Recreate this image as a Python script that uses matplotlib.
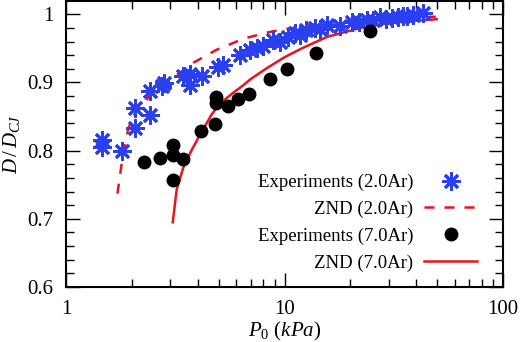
import matplotlib
matplotlib.use("Agg")
import matplotlib.pyplot as plt
from matplotlib.ticker import MultipleLocator, LogLocator, FixedLocator, NullFormatter

# Experiments (2.0Ar)
p_exp2 = [1.46, 1.46, 1.80, 2.07, 2.07, 2.42, 2.42, 2.74, 2.80, 3.44, 3.69, 3.69, 4.18,
          4.98, 5.21, 6.26, 6.95, 7.46, 7.97, 8.87, 9.5, 10.4, 11.2, 11.8, 12.6, 13.8,
          14.5, 15.6, 17.9, 20.3, 22.0, 23.8, 25.5, 27.3, 29.0, 31.2, 33.0, 34.9, 36.5,
          38.8, 43.0]
d_exp2 = [0.816, 0.806, 0.799, 0.833, 0.862, 0.853, 0.888, 0.895, 0.899, 0.910, 0.913,
          0.896, 0.910, 0.923, 0.926, 0.940, 0.947, 0.950, 0.953, 0.962, 0.960, 0.967,
          0.972, 0.970, 0.977, 0.980, 0.978, 0.984, 0.983, 0.989, 0.988, 0.992, 0.991,
          0.996, 0.993, 0.994, 0.996, 0.997, 0.998, 0.999, 1.0015]

# ZND (2.0Ar)
p_znd2 = [1.72, 1.76, 1.80, 1.87, 1.93, 2.05, 2.18, 2.4, 2.6, 2.9, 3.21, 3.83, 4.89,
          6.48, 8.0, 9.5, 13.0, 18.0, 25.0, 35.0, 49.7]
d_znd2 = [0.737, 0.760, 0.782, 0.810, 0.833, 0.852, 0.865, 0.879, 0.889, 0.900, 0.911,
          0.929, 0.948, 0.964, 0.972, 0.977, 0.984, 0.989, 0.992, 0.995, 0.9965]

# Experiments (7.0Ar)
p_exp7 = [2.28, 2.69, 3.10, 3.10, 3.10, 3.44, 4.13, 4.81, 4.85, 4.85, 5.53, 6.15, 6.89,
          8.59, 10.3, 13.9, 24.6]
d_exp7 = [0.783, 0.789, 0.809, 0.793, 0.757, 0.788, 0.829, 0.839, 0.878, 0.870, 0.866,
          0.876, 0.883, 0.905, 0.920, 0.943, 0.975]

# ZND (7.0Ar)
p_znd7 = [3.08, 3.21, 3.44, 3.76, 4.10, 4.64, 5.06, 5.83, 6.48, 7.0, 8.3, 10.0, 12.0,
          15.7, 22.2, 31.3, 49.7]
d_znd7 = [0.695, 0.743, 0.775, 0.801, 0.823, 0.853, 0.869, 0.885, 0.896, 0.905, 0.921,
          0.937, 0.950, 0.967, 0.980, 0.988, 0.9927]

plt.rcParams['font.family'] = ['Liberation Serif', 'DejaVu Serif']
plt.rcParams['mathtext.fontset'] = 'custom'
plt.rcParams['mathtext.it'] = 'Liberation Serif:italic'
plt.rcParams['mathtext.rm'] = 'Liberation Serif'

fig = plt.figure(figsize=(5.2, 3.42), dpi=100)
ax = fig.add_axes([66/520, 1 - 287/342, (503-66)/520, (287-1)/342])

red = '#e8141c'
ax.plot(p_exp2, d_exp2, linestyle='none', marker=(8, 2, 0), markersize=13,
        markeredgewidth=2.0, color='#2a3ff0', label='Experiments (2.0Ar)', zorder=3)
ax.plot(p_znd2, d_znd2, linestyle=(0, (4, 4)), linewidth=1.8, color=red,
        label='ZND (2.0Ar)', zorder=2)
ax.plot(p_exp7, d_exp7, linestyle='none', marker='o', markersize=9,
        color='black', label='Experiments (7.0Ar)', zorder=3)
ax.plot(p_znd7, d_znd7, linestyle='-', linewidth=1.8, color=red,
        label='ZND (7.0Ar)', zorder=2)

ax.set_xscale('log')
ax.set_xlim(1, 100)
ax.set_ylim(0.6, 1.0195)
ax.yaxis.set_major_locator(FixedLocator([0.6, 0.7, 0.8, 0.9, 1.0]))
ax.yaxis.set_minor_locator(MultipleLocator(0.02))
ax.set_yticklabels(['0.6', '0.7', '0.8', '0.9', '1'])
ax.xaxis.set_major_locator(FixedLocator([1, 10, 100]))
ax.set_xticklabels(['1', '10', '100'])
ax.xaxis.set_minor_locator(LogLocator(base=10, subs=range(2, 10)))
ax.xaxis.set_minor_formatter(NullFormatter())

ax.tick_params(which='both', direction='in', top=True, right=True, labelsize=15,
               width=1.0)
ax.tick_params(which='major', length=10, pad=9)
ax.tick_params(axis='y', which='major', pad=9)
ax.tick_params(which='minor', length=6)
for s in ax.spines.values():
    s.set_linewidth(1.5)

ax.set_xlabel(r'$P_0$ $(kPa)$', fontsize=15, labelpad=1)
ax.set_ylabel(r'$D\,/\,D_{CJ}$', fontsize=15, labelpad=4)

leg = ax.legend(loc='lower right', frameon=False, fontsize=13.5, markerfirst=False,
                handlelength=2.8, handletextpad=0.6, labelspacing=0.51,
                bbox_to_anchor=(0.97, 0.007), borderaxespad=0.3)
for t in leg.get_texts():
    t.set_ha('right')

fig.savefig('out.png', dpi=100)
